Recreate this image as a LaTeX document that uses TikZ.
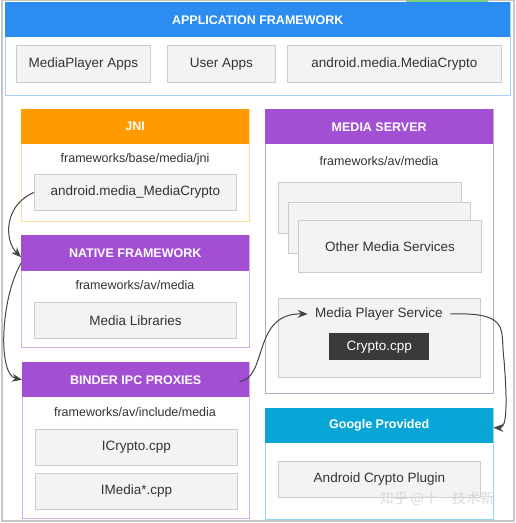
\documentclass[tikz,border=0pt]{standalone}
\usepackage{fontspec}
\setmainfont{Liberation Sans}
\newfontfamily\cjk{Noto Sans CJK SC}
\usetikzlibrary{arrows.meta}
\definecolor{appblue}{HTML}{2B8CF2}
\definecolor{jniorange}{HTML}{FF9A00}
\definecolor{nativepurple}{HTML}{A34FD3}
\definecolor{googlecyan}{HTML}{08A6D6}
\definecolor{boxfill}{HTML}{F3F3F3}
\definecolor{boxline}{HTML}{CCCCCC}
\definecolor{darkfill}{HTML}{3A3A3A}
\definecolor{arrowgray}{HTML}{444444}
\begin{document}
\begin{tikzpicture}[x=1pt,y=-1pt]
\tikzset{
  panel/.style={draw=#1, line width=0.8pt, fill=white, anchor=north west, inner sep=0pt}, % outer group
  header/.style={fill=#1, anchor=north west, inner sep=0pt, text=white, font=\bfseries\fontsize{12.5}{14}\selectfont}, % coloured title bar
  module/.style={draw=boxline, line width=0.8pt, fill=boxfill, anchor=north west, inner sep=0pt, text=black!80, font=\fontsize{13.5}{16}\selectfont}, % light box
  cppbox/.style={fill=darkfill, anchor=north west, inner sep=0pt, text=white, font=\fontsize{13.5}{16}\selectfont}, % dark box
  pathtext/.style={text=black!80, font=\fontsize{12.5}{15}\selectfont}, % source path
  call/.style={draw=arrowgray, line width=1pt, -{Stealth[length=10pt,width=8pt]}} % connector
}
\useasboundingbox (0,0) rectangle (516,523);
\draw[gray!45, line width=1.2pt] (2,0) rectangle (514,521); % frame
\fill[green!45!gray!70] (406,0) rectangle (488,2);

% application framework
\node[panel=appblue!40, minimum width=505pt, minimum height=93pt] (app) at (5,2) {};
\node[header=appblue, minimum width=505pt, minimum height=35pt] (apphd) at (5,2) {APPLICATION FRAMEWORK};
\node[module, minimum width=134pt, minimum height=37pt] (mpapps) at (16,45) {MediaPlayer Apps};
\node[module, minimum width=108pt, minimum height=37pt] (userapps) at (167,45) {User Apps};
\node[module, minimum width=214pt, minimum height=37pt] (mcrypto) at (287,45) {android.media.MediaCrypto};

% jni
\node[panel=jniorange!35, minimum width=228pt, minimum height=112pt] (jni) at (21,109) {};
\node[header=jniorange, minimum width=228pt, minimum height=35pt] (jnihd) at (21,109) {JNI};
\node[pathtext] (jnipath) at (135,159) {frameworks/base/media/jni};
\node[module, minimum width=202pt, minimum height=36pt] (jnicrypto) at (34,174) {android.media\_MediaCrypto};

% native framework
\node[panel=nativepurple!45, minimum width=228pt, minimum height=112pt] (native) at (21,235) {};
\node[header=nativepurple, minimum width=228pt, minimum height=36pt] (nativehd) at (21,235) {NATIVE FRAMEWORK};
\node[pathtext] (nativepath) at (135,285) {frameworks/av/media};
\node[module, minimum width=202pt, minimum height=36pt] (medialibs) at (34,302) {Media Libraries};

% binder proxies
\node[panel=nativepurple!45, minimum width=227pt, minimum height=156pt] (binder) at (22,362) {};
\node[header=nativepurple, minimum width=227pt, minimum height=35pt] (binderhd) at (22,362) {BINDER IPC PROXIES};
\node[pathtext] (binderpath) at (135,412) {frameworks/av/include/media};
\node[module, minimum width=202pt, minimum height=36pt] (icrypto) at (35,429) {ICrypto.cpp};
\node[module, minimum width=202pt, minimum height=36pt] (imedia) at (35,473) {IMedia*.cpp};

% media server
\node[panel=nativepurple!30!gray!60, minimum width=228pt, minimum height=284pt] (server) at (265,109) {};
\node[header=nativepurple, minimum width=228pt, minimum height=35pt] (serverhd) at (265,109) {MEDIA SERVER};
\node[pathtext] (serverpath) at (379,161) {frameworks/av/media};
\node[module, minimum width=183pt, minimum height=51pt] (other1) at (278,182) {};
\node[module, minimum width=182pt, minimum height=51pt] (other2) at (288,202) {};
\node[module, minimum width=183pt, minimum height=52pt] (other3) at (298,220) {Other Media Services};
\node[module, minimum width=202pt, minimum height=79pt] (mpservice) at (278,298) {};
\node[font=\fontsize{13.5}{16}\selectfont, text=black!80] (mpstext) at (379,314) {Media Player Service};
\node[cppbox, minimum width=100pt, minimum height=27pt] (cryptocpp) at (329,333) {Crypto.cpp};

% google provided
\node[panel=googlecyan!45, minimum width=228pt, minimum height=111pt] (google) at (265,408) {};
\node[header=googlecyan, minimum width=228pt, minimum height=35pt] (googlehd) at (265,408) {Google Provided};
\node[module, minimum width=202pt, minimum height=36pt] (plugin) at (278,461) {Android Crypto Plugin};

% watermark
\node[text=gray!30, font=\cjk\fontsize{14}{16}\selectfont] (mark) at (437,499) {知乎 @十一技术新};

% calls
\draw[call] (jnicrypto.west) .. controls (4,205) and (4,240) .. ([yshift=-4pt]nativehd.west);
\draw[call] ([yshift=-10pt]nativehd.west) .. controls (0,300) and (-2,375) .. (binderhd.west);
\draw[call] ([xshift=-10pt,yshift=-2pt]binderhd.east) .. controls (268,378) and (252,313) .. ([xshift=-4pt]mpstext.west);
\draw[call] ([xshift=4pt]mpstext.east) .. controls (512,312) and (500,330) .. (504,360)
  .. controls (508,410) and (506,428) .. ([yshift=-2pt]googlehd.east);
\end{tikzpicture}
\end{document}
